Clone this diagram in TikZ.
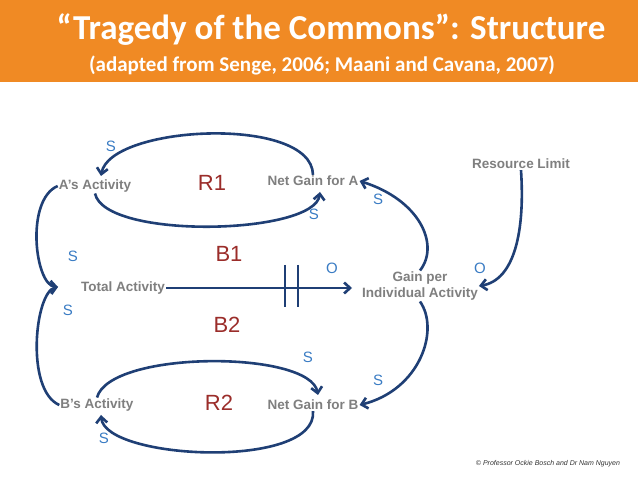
\documentclass[tikz,border=0pt]{standalone}
\usepackage{fontspec}
\setmainfont{Liberation Sans}
\newfontfamily\titlefont{Carlito}
\usetikzlibrary{arrows.meta}
\definecolor{arr}{HTML}{1F3F75}
\definecolor{lab}{HTML}{7F7F7F}
\definecolor{sblue}{HTML}{3A7CC4}
\definecolor{rred}{HTML}{9B2D2A}
\definecolor{orng}{HTML}{F08A24}
\begin{document}
\begin{tikzpicture}[x=1pt,y=-1pt,
  var/.style={text=lab,font=\bfseries\fontsize{13.5}{16}\selectfont,align=center,inner sep=1pt},
  pol/.style={text=sblue,font=\fontsize{15}{16}\selectfont},
  loop/.style={text=rred,font=\fontsize{22}{24}\selectfont},
  link/.style={draw=arr,line width=2.6pt,-{Straight Barb[length=6pt,width=11pt]}}]
\useasboundingbox (0,0) rectangle (638,478);
\fill[white] (0,0) rectangle (638,478);
\fill[orng] (0,0) rectangle (638,82);
\node[text=white,font=\titlefont\bfseries\fontsize{35}{38}\selectfont] (title) at (331,30) {“Tragedy of the Commons”: Structure};
\node[text=white,font=\titlefont\bfseries\fontsize{21}{24}\selectfont] (sub) at (322,65) {(adapted from Senge, 2006; Maani and Cavana, 2007)};
\node[var] (aa) at (95,186) {A’s Activity};
\node[var] (nga) at (313,181) {Net Gain for A};
\node[var] (rl) at (521,164) {Resource Limit};
\node[var] (ta) at (123,288) {Total Activity};
\node[var] (gp) at (420,286) {Gain per\\Individual Activity};
\node[var] (ba) at (97,405) {B’s Activity};
\node[var] (ngb) at (313,405) {Net Gain for B};
\node[loop] (r1) at (212,183) {R1};
\node[loop] (b1) at (229,254) {B1};
\node[loop] (b2) at (227,325) {B2};
\node[loop] (r2) at (219,403) {R2};
\foreach \n/\x/\y/\t in {s1/111/146/S,s2/314/214/S,s3/378/199/S,s4/73/256/S,s5/68/310/S,s6/308/357/S,s7/378/380/S,s8/104/438/S,o1/332/268/O,o2/480/268/O}
  \node[pol] (\n) at (\x,\y) {\t};
\coordinate (tin) at (58,287);
\coordinate (tout) at (352,288);
% R1
\draw[link] (nga.north) .. controls (312,115) and (110,125) .. (101,176);
\draw[link] (aa.south) .. controls (105,240) and (315,235) .. (320,192);
% R2
\draw[link] (ba.north) .. controls (110,350) and (310,350) .. (318,395);
\draw[link] (ngb.south) .. controls (318,470) and (105,460) .. (101,415);
% to total
\draw[link] (aa.west) .. controls (25,200) and (35,285) .. (tin);
\draw[link] (ba.west) .. controls (25,390) and (35,292) .. (tin);
% total to gain with delay
\coordinate (d1) at (285,265); \coordinate (d2) at (298,265);
\draw[link] (ta.east) -- (tout);
\draw[arr,line width=2.6pt] (d1) -- ++(0,42) (d2) -- ++(0,42);
\draw[link] (gp.north) .. controls (440,245) and (420,200) .. (nga.east);
\draw[link] (gp.south) .. controls (440,330) and (420,390) .. (ngb.east);
\draw[link] (rl.south) .. controls (525,230) and (515,280) .. (gp.east);
\node[font=\itshape\fontsize{7}{8}\selectfont,text=black!80] (cr) at (548,464) {© Professor Ockie Bosch and Dr Nam Nguyen};
\end{tikzpicture}
\end{document}
